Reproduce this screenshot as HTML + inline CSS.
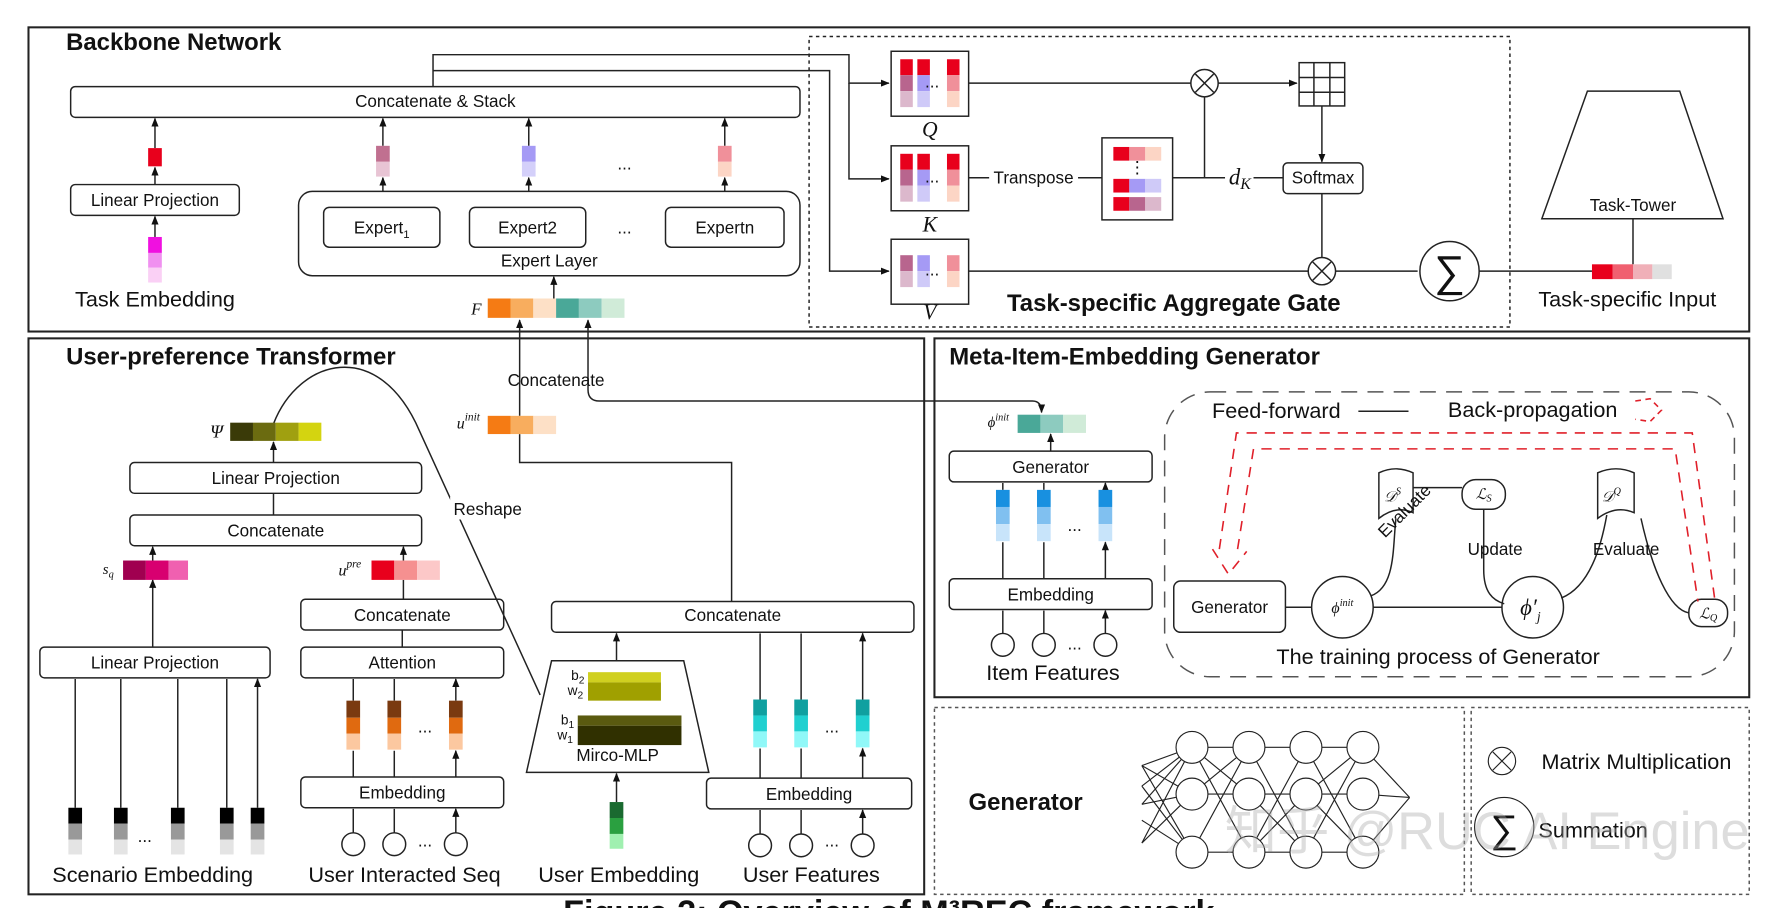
<!DOCTYPE html>
<html><head><meta charset="utf-8"><style>
html,body{margin:0;padding:0;background:#fff;}
svg{display:block;}
text{font-family:"Liberation Sans",Arial,sans-serif;fill:#111;}
.t{font-size:15px;text-anchor:middle;}
.b{font-size:21px;font-weight:bold;}
.m{font-size:19px;text-anchor:middle;}
.s{font-family:"Liberation Serif",serif;font-style:italic;}
</style></head><body>
<svg width="1780" height="908" viewBox="0 0 1562 797" preserveAspectRatio="none" xmlns="http://www.w3.org/2000/svg">
<defs>
<marker id="a" viewBox="0 0 10 10" refX="9" refY="5" markerWidth="6" markerHeight="6" orient="auto"><path d="M0,1 L10,5 L0,9 z" fill="#111"/></marker>
</defs>
<g fill="none" stroke="#222" stroke-width="1.3">
<rect x="25" y="24" width="1510" height="267" stroke-width="1.8"/>
<rect x="710" y="32" width="615" height="255" stroke-dasharray="3,3"/>
<rect x="25" y="297" width="786" height="488" stroke-width="1.8"/>
<rect x="820" y="297" width="715" height="315" stroke-width="1.8"/>
<rect x="820" y="621" width="465" height="164" stroke-dasharray="3,3" stroke="#555"/>
<rect x="1291" y="621" width="244" height="164" stroke-dasharray="3,3" stroke="#555"/>
<rect x="62" y="76" width="640" height="27" rx="4"/>
<rect x="62" y="162" width="148" height="27" rx="4"/>
<rect x="262" y="168" width="440" height="74" rx="12"/>
<rect x="284" y="182" width="102" height="35" rx="5"/>
<rect x="412" y="182" width="102" height="35" rx="5"/>
<rect x="584" y="182" width="104" height="35" rx="5"/>
<path d="M380,76 V48 H745 V73 H780" marker-end="url(#a)"/>
<path d="M745,73 V157 H780" marker-end="url(#a)"/>
<path d="M380,62 H728 V238 H780" marker-end="url(#a)"/>
<path d="M136,208 V190" marker-end="url(#a)"/>
<path d="M136,162 V147" marker-end="url(#a)"/>
<path d="M136,130 V104" marker-end="url(#a)"/>
<path d="M336,168 V156" marker-end="url(#a)"/><path d="M336,128 V104" marker-end="url(#a)"/>
<path d="M464,168 V156" marker-end="url(#a)"/><path d="M464,128 V104" marker-end="url(#a)"/>
<path d="M636,168 V156" marker-end="url(#a)"/><path d="M636,128 V104" marker-end="url(#a)"/>
<path d="M486,262 V243" marker-end="url(#a)"/>
<rect x="782" y="45" width="68" height="57"/>
<rect x="782" y="128" width="68" height="57"/>
<rect x="782" y="210" width="68" height="57"/>
<rect x="967" y="121" width="62" height="72"/>
<path d="M850,156 H868 M946,156 H967"/>
<path d="M1029,156 H1075 M1057,156 V85 M1100,156 H1126"/>
<path d="M850,73 H1045 M1069,73 H1138" marker-end="url(#a)"/>
<rect x="1140" y="55" width="40" height="38"/>
<path d="M1153,55 V93 M1167,55 V93 M1140,68 H1180 M1140,81 H1180"/>
<path d="M1160,93 V142" marker-end="url(#a)"/>
<rect x="1126" y="143" width="70" height="27" rx="4"/>
<path d="M1160,170 V226"/>
<path d="M850,238 H1148 M1172,238 H1244"/>
<circle cx="1057" cy="73" r="12"/><path d="M1049,65 L1065,81 M1065,65 L1049,81"/>
<circle cx="1160" cy="238" r="12"/><path d="M1152,230 L1168,246 M1168,230 L1152,246"/>
<circle cx="1272" cy="238" r="26"/>
<path d="M1298,238 H1397"/>
<path d="M1393,80 H1474 L1512,192 H1353 Z"/>
<path d="M1433,192 V232"/>
<path d="M456,365 V281" marker-end="url(#a)"/>
<path d="M516,290 V281" marker-end="url(#a)"/>
<path d="M516,290 V342 Q516,352 526,352 H906 Q914,352 914,362" marker-end="url(#a)"/>
<path d="M456,381 V406 H642 V528"/>
<path d="M240,372 C262,315 332,295 368,378 L474,610"/>
<rect x="114" y="406" width="256" height="27" rx="4"/>
<rect x="114" y="452" width="256" height="27" rx="4"/>
<path d="M240,406 V388" marker-end="url(#a)"/>
<path d="M240,433 V452"/>
<path d="M134,492 V480" marker-end="url(#a)"/>
<path d="M354,492 V480" marker-end="url(#a)"/>
<rect x="35" y="568" width="202" height="27" rx="4"/>
<path d="M134,568 V509" marker-end="url(#a)"/>
<rect x="264" y="526" width="178" height="27" rx="4"/>
<rect x="264" y="568" width="178" height="27" rx="4"/>
<path d="M354,526 V509 M353,553 V568"/>
<path d="M66,709 V596 M106,709 V596 M156,709 V596 M199,709 V596 M226,709 V596" marker-end="url(#a)"/>
<path d="M310,615 V596 M346,615 V596 M400,615 V596" marker-end="url(#a)"/>
<rect x="264" y="682" width="178" height="27" rx="4"/>
<path d="M310,682 V659 M346,682 V659 M400,682 V659" marker-end="url(#a)"/>
<path d="M310,731 V710 M346,731 V710 M400,731 V710" marker-end="url(#a)"/>
<circle cx="310" cy="741" r="10"/><circle cx="346" cy="741" r="10"/><circle cx="400" cy="741" r="10"/>
<rect x="484" y="528" width="318" height="27" rx="4"/>
<path d="M484,580 H600 L622,678 H462 Z"/>
<path d="M541,580 V556" marker-end="url(#a)"/>
<path d="M541,704 V679" marker-end="url(#a)"/>
<path d="M667,614 V556 M703,614 V556 M757,614 V556" marker-end="url(#a)"/>
<rect x="620" y="683" width="180" height="27" rx="4"/>
<path d="M667,683 V657 M703,683 V657 M757,683 V657" marker-end="url(#a)"/>
<path d="M667,732 V711 M703,732 V711 M757,732 V711" marker-end="url(#a)"/>
<circle cx="667" cy="742" r="10"/><circle cx="703" cy="742" r="10"/><circle cx="757" cy="742" r="10"/>
<rect x="833" y="396" width="178" height="27" rx="4"/>
<path d="M922,396 V381" marker-end="url(#a)"/>
<path d="M880,430 V424 M916,430 V424 M970,430 V424" marker-end="url(#a)"/>
<path d="M880,508 V476 M916,508 V476 M970,508 V476" marker-end="url(#a)"/>
<rect x="833" y="508" width="178" height="27" rx="4"/>
<path d="M880,556 V536 M916,556 V536 M970,556 V536" marker-end="url(#a)"/>
<circle cx="880" cy="566" r="10"/><circle cx="916" cy="566" r="10"/><circle cx="970" cy="566" r="10"/>
<rect x="1022" y="344" width="500" height="250" rx="40" stroke="#555" stroke-dasharray="14,9"/>
<path d="M1192,361 H1236"/>
<rect x="1030" y="510" width="98" height="45" rx="6"/>
<path d="M1128,533 H1151 M1205,533 H1318"/>
<circle cx="1178" cy="533" r="27"/>
<circle cx="1345" cy="533" r="27"/>
<path d="M1203,523 C1225,515 1222,480 1225,455"/>
<path d="M1240,428 H1283"/>
<rect x="1283" y="421" width="38" height="26" rx="12"/>
<path d="M1302,447 V500 C1302,520 1310,527 1320,530"/>
<path d="M1370,525 C1395,515 1405,480 1410,452"/>
<path d="M1440,455 C1450,500 1465,535 1482,538"/>
<rect x="1482" y="526" width="34" height="24" rx="11"/>
<path d="M1210,415 Q1225,408 1240,415 V450 Q1225,443 1210,455 Z"/>
<path d="M1402,415 Q1418,408 1434,415 V450 Q1418,443 1402,455 Z"/>
</g>
<g fill="none" stroke="#e0202a" stroke-width="1.4" stroke-dasharray="9,7">
<path d="M1070,482 L1085,380 H1485 L1505,528"/>
<path d="M1086,482 L1100,394 H1470 L1490,528"/>
<path d="M1064,482 L1078,504 L1094,484"/>
<path d="M1435,352 L1448,350 L1458,360 L1448,370 L1435,368" stroke-dasharray="5,4"/>
</g>
<g stroke="none">
<rect x="130" y="130" width="12" height="16" fill="#e8001c"/>
<rect x="130" y="208" width="12" height="14" fill="#f010e0"/><rect x="130" y="222" width="12" height="13" fill="#f090f0"/><rect x="130" y="235" width="12" height="13" fill="#fad0f5"/>
<rect x="330" y="128" width="12" height="14" fill="#c07090"/><rect x="330" y="142" width="12" height="13" fill="#e8c4d4"/>
<rect x="458" y="128" width="12" height="14" fill="#a59af5"/><rect x="458" y="142" width="12" height="13" fill="#d4d0fa"/>
<rect x="630" y="128" width="12" height="14" fill="#f0909a"/><rect x="630" y="142" width="12" height="13" fill="#fcd5c5"/>
<rect x="428" y="262" width="20" height="17" fill="#f57b14"/><rect x="448" y="262" width="20" height="17" fill="#f8ad5e"/><rect x="468" y="262" width="20" height="17" fill="#fde0c6"/><rect x="488" y="262" width="20" height="17" fill="#4aa898"/><rect x="508" y="262" width="20" height="17" fill="#8dcbbf"/><rect x="528" y="262" width="20" height="17" fill="#d0ebd8"/>
<rect x="790" y="52" width="11" height="14" fill="#e8001c"/><rect x="790" y="66" width="11" height="14" fill="#b8658e"/><rect x="790" y="80" width="11" height="14" fill="#dcb8cc"/>
<rect x="805" y="52" width="11" height="14" fill="#e8001c"/><rect x="805" y="66" width="11" height="14" fill="#a59af5"/><rect x="805" y="80" width="11" height="14" fill="#cfcaf8"/>
<rect x="831" y="52" width="11" height="14" fill="#e8001c"/><rect x="831" y="66" width="11" height="14" fill="#f0909a"/><rect x="831" y="80" width="11" height="14" fill="#fcd5c5"/>
<rect x="790" y="135" width="11" height="14" fill="#e8001c"/><rect x="790" y="149" width="11" height="14" fill="#b8658e"/><rect x="790" y="163" width="11" height="14" fill="#dcb8cc"/>
<rect x="805" y="135" width="11" height="14" fill="#e8001c"/><rect x="805" y="149" width="11" height="14" fill="#a59af5"/><rect x="805" y="163" width="11" height="14" fill="#cfcaf8"/>
<rect x="831" y="135" width="11" height="14" fill="#e8001c"/><rect x="831" y="149" width="11" height="14" fill="#f0909a"/><rect x="831" y="163" width="11" height="14" fill="#fcd5c5"/>
<rect x="790" y="224" width="11" height="14" fill="#b8658e"/><rect x="790" y="238" width="11" height="14" fill="#dcb8cc"/>
<rect x="805" y="224" width="11" height="14" fill="#a59af5"/><rect x="805" y="238" width="11" height="14" fill="#cfcaf8"/>
<rect x="831" y="224" width="11" height="14" fill="#f0909a"/><rect x="831" y="238" width="11" height="14" fill="#fcd5c5"/>
<rect x="977" y="129" width="14" height="12" fill="#e8001c"/><rect x="991" y="129" width="14" height="12" fill="#f0909a"/><rect x="1005" y="129" width="14" height="12" fill="#fcd5c5"/>
<rect x="977" y="157" width="14" height="12" fill="#e8001c"/><rect x="991" y="157" width="14" height="12" fill="#a59af5"/><rect x="1005" y="157" width="14" height="12" fill="#cfcaf8"/>
<rect x="977" y="173" width="14" height="12" fill="#e8001c"/><rect x="991" y="173" width="14" height="12" fill="#b8658e"/><rect x="1005" y="173" width="14" height="12" fill="#dcb8cc"/>
<rect x="1397" y="232" width="18" height="13" fill="#e8001c"/><rect x="1415" y="232" width="18" height="13" fill="#f06070"/><rect x="1433" y="232" width="17" height="13" fill="#f0b0b8"/><rect x="1450" y="232" width="17" height="13" fill="#e0e0e0"/>
<rect x="428" y="365" width="20" height="16" fill="#f57b14"/><rect x="448" y="365" width="20" height="16" fill="#f8ad5e"/><rect x="468" y="365" width="20" height="16" fill="#fde0c6"/>
<rect x="202" y="371" width="20" height="16" fill="#3a3a08"/><rect x="222" y="371" width="20" height="16" fill="#6b6b10"/><rect x="242" y="371" width="20" height="16" fill="#a0a010"/><rect x="262" y="371" width="20" height="16" fill="#d4d410"/>
<rect x="108" y="492" width="20" height="17" fill="#a00050"/><rect x="128" y="492" width="20" height="17" fill="#d80070"/><rect x="148" y="492" width="17" height="17" fill="#f060b0"/>
<rect x="326" y="492" width="20" height="17" fill="#e8001c"/><rect x="346" y="492" width="20" height="17" fill="#f59090"/><rect x="366" y="492" width="20" height="17" fill="#fcc8c8"/>
<g>
<rect x="60" y="709" width="12" height="14" fill="#000"/><rect x="60" y="723" width="12" height="14" fill="#999"/><rect x="60" y="737" width="12" height="13" fill="#e4e4e4"/>
<rect x="100" y="709" width="12" height="14" fill="#000"/><rect x="100" y="723" width="12" height="14" fill="#999"/><rect x="100" y="737" width="12" height="13" fill="#e4e4e4"/>
<rect x="150" y="709" width="12" height="14" fill="#000"/><rect x="150" y="723" width="12" height="14" fill="#999"/><rect x="150" y="737" width="12" height="13" fill="#e4e4e4"/>
<rect x="193" y="709" width="12" height="14" fill="#000"/><rect x="193" y="723" width="12" height="14" fill="#999"/><rect x="193" y="737" width="12" height="13" fill="#e4e4e4"/>
<rect x="220" y="709" width="12" height="14" fill="#000"/><rect x="220" y="723" width="12" height="14" fill="#999"/><rect x="220" y="737" width="12" height="13" fill="#e4e4e4"/>
</g>
<g>
<rect x="304" y="615" width="12" height="15" fill="#7a3a10"/><rect x="304" y="630" width="12" height="14" fill="#e06a10"/><rect x="304" y="644" width="12" height="14" fill="#fcc8a0"/>
<rect x="340" y="615" width="12" height="15" fill="#7a3a10"/><rect x="340" y="630" width="12" height="14" fill="#e06a10"/><rect x="340" y="644" width="12" height="14" fill="#fcc8a0"/>
<rect x="394" y="615" width="12" height="15" fill="#7a3a10"/><rect x="394" y="630" width="12" height="14" fill="#e06a10"/><rect x="394" y="644" width="12" height="14" fill="#fcc8a0"/>
</g>
<rect x="516" y="590" width="64" height="9" fill="#d0d020"/><rect x="516" y="599" width="64" height="16" fill="#a0a000"/>
<rect x="507" y="628" width="91" height="9" fill="#5a5a10"/><rect x="507" y="637" width="91" height="17" fill="#303000"/>
<rect x="535" y="704" width="12" height="14" fill="#1a6a30"/><rect x="535" y="718" width="12" height="14" fill="#2aa040"/><rect x="535" y="732" width="12" height="13" fill="#a0f0b0"/>
<g>
<rect x="661" y="614" width="12" height="14" fill="#10a0a0"/><rect x="661" y="628" width="12" height="14" fill="#20d0d0"/><rect x="661" y="642" width="12" height="14" fill="#90f8f8"/>
<rect x="697" y="614" width="12" height="14" fill="#10a0a0"/><rect x="697" y="628" width="12" height="14" fill="#20d0d0"/><rect x="697" y="642" width="12" height="14" fill="#90f8f8"/>
<rect x="751" y="614" width="12" height="14" fill="#10a0a0"/><rect x="751" y="628" width="12" height="14" fill="#20d0d0"/><rect x="751" y="642" width="12" height="14" fill="#90f8f8"/>
</g>
<rect x="893" y="364" width="20" height="16" fill="#4aa898"/><rect x="913" y="364" width="20" height="16" fill="#8dcbbf"/><rect x="933" y="364" width="20" height="16" fill="#d0ebd8"/>
<g>
<rect x="874" y="430" width="12" height="15" fill="#1890e0"/><rect x="874" y="445" width="12" height="15" fill="#80c0f0"/><rect x="874" y="460" width="12" height="15" fill="#c8e4fa"/>
<rect x="910" y="430" width="12" height="15" fill="#1890e0"/><rect x="910" y="445" width="12" height="15" fill="#80c0f0"/><rect x="910" y="460" width="12" height="15" fill="#c8e4fa"/>
<rect x="964" y="430" width="12" height="15" fill="#1890e0"/><rect x="964" y="445" width="12" height="15" fill="#80c0f0"/><rect x="964" y="460" width="12" height="15" fill="#c8e4fa"/>
</g>
</g>
<g fill="none" stroke="#222" stroke-width="1">
<path d="M1002,672 L1046,656 M1002,672 L1046,697 M1002,672 L1046,748 M1002,690 L1046,656 M1002,690 L1046,748 M1002,706 L1046,656 M1002,706 L1046,697 M1002,720 L1046,748 M1002,740 L1046,697 M1002,740 L1046,656"/>
<path d="M1046,656 L1096,656 L1146,656 L1196,656 M1046,697 H1196 M1046,748 H1196"/>
<path d="M1046,656 L1096,748 M1046,748 L1096,656 M1046,697 L1096,656 M1046,656 L1096,697 M1096,656 L1146,748 M1096,748 L1146,656 M1096,697 L1146,748 M1096,748 L1146,697 M1146,656 L1196,748 M1146,748 L1196,656 M1146,697 L1196,656 M1146,697 L1196,748"/>
<path d="M1196,656 L1237,700 M1196,697 L1237,700 M1196,748 L1237,700"/>
<circle cx="1046" cy="656" r="14" fill="#fff"/><circle cx="1046" cy="697" r="14" fill="#fff"/><circle cx="1046" cy="748" r="14" fill="#fff"/>
<circle cx="1096" cy="656" r="14" fill="#fff"/><circle cx="1096" cy="697" r="14" fill="#fff"/><circle cx="1096" cy="748" r="14" fill="#fff"/>
<circle cx="1146" cy="656" r="14" fill="#fff"/><circle cx="1146" cy="697" r="14" fill="#fff"/><circle cx="1146" cy="748" r="14" fill="#fff"/>
<circle cx="1196" cy="656" r="14" fill="#fff"/><circle cx="1196" cy="697" r="14" fill="#fff"/><circle cx="1196" cy="748" r="14" fill="#fff"/>
<circle cx="1318" cy="668" r="12"/><path d="M1310,660 L1326,676 M1326,660 L1310,676"/>
<circle cx="1320" cy="726" r="26"/>
</g>
<text x="58" y="44" class="b">Backbone Network</text>
<text x="382" y="94" class="t">Concatenate &amp; Stack</text>
<text x="136" y="181" class="t">Linear Projection</text>
<text x="335" y="205" class="t">Expert<tspan font-size="10" dy="4">1</tspan></text>
<text x="463" y="205" class="t">Expert2</text>
<text x="636" y="205" class="t">Expertn</text>
<text x="548" y="205" class="t">...</text>
<text x="548" y="149" class="t">...</text>
<text x="482" y="234" class="t">Expert Layer</text>
<text x="136" y="269" class="m">Task Embedding</text>
<text x="418" y="276" class="s" font-size="15" text-anchor="middle">F</text>
<text x="816" y="120" class="s" font-size="19" text-anchor="middle">Q</text>
<text x="816" y="203" class="s" font-size="19" text-anchor="middle">K</text>
<text x="816" y="280" class="s" font-size="19" text-anchor="middle">V</text>
<text x="818" y="77" class="t" font-size="11">...</text><text x="818" y="160" class="t" font-size="11">...</text><text x="818" y="242" class="t" font-size="11">...</text>
<text x="907" y="161" class="t">Transpose</text>
<text x="998" y="152" class="t" font-size="11">⋮</text>
<text x="1088" y="162" class="s" font-size="20" text-anchor="middle">d<tspan font-size="14" dy="4">K</tspan></text>
<text x="1161" y="161" class="t">Softmax</text>
<text x="1272" y="251" font-size="38" text-anchor="middle" font-family="DejaVu Sans,sans-serif">∑</text>
<text x="1433" y="185" class="t">Task-Tower</text>
<text x="1428" y="269" class="m">Task-specific Input</text>
<text x="1030" y="273" class="b" text-anchor="middle">Task-specific Aggregate Gate</text>
<text x="58" y="320" class="b">User-preference Transformer</text>
<text x="488" y="339" class="t">Concatenate</text>
<text x="411" y="376" class="s" font-size="14" text-anchor="middle">u<tspan font-size="10" dy="-7">init</tspan></text>
<text x="190" y="384" class="s" font-size="16" text-anchor="middle">Ψ</text>
<rect x="395" y="436" width="66" height="20" fill="#fff"/>
<text x="428" y="452" class="t">Reshape</text>
<text x="242" y="425" class="t">Linear Projection</text>
<text x="242" y="471" class="t">Concatenate</text>
<text x="95" y="504" class="s" font-size="13" text-anchor="middle">s<tspan font-size="9" dy="3">q</tspan></text>
<text x="307" y="505" class="s" font-size="14" text-anchor="middle">u<tspan font-size="10" dy="-7">pre</tspan></text>
<text x="136" y="587" class="t">Linear Projection</text>
<text x="353" y="545" class="t">Concatenate</text>
<text x="353" y="587" class="t">Attention</text>
<text x="353" y="701" class="t">Embedding</text>
<text x="643" y="545" class="t">Concatenate</text>
<text x="710" y="702" class="t">Embedding</text>
<text x="127" y="739" class="t" font-size="11">...</text>
<text x="373" y="643" class="t" font-size="11">...</text>
<text x="373" y="743" class="t" font-size="11">...</text>
<text x="730" y="643" class="t" font-size="11">...</text>
<text x="730" y="743" class="t" font-size="11">...</text>
<text x="943" y="466" class="t" font-size="11">...</text>
<text x="943" y="570" class="t" font-size="11">...</text>
<text x="507" y="597" font-size="12" text-anchor="middle">b<tspan font-size="9" dy="3">2</tspan></text>
<text x="505" y="610" font-size="12" text-anchor="middle">w<tspan font-size="9" dy="3">2</tspan></text>
<text x="498" y="636" font-size="12" text-anchor="middle">b<tspan font-size="9" dy="3">1</tspan></text>
<text x="496" y="649" font-size="12" text-anchor="middle">w<tspan font-size="9" dy="3">1</tspan></text>
<text x="542" y="668" class="t" font-size="14">Mirco-MLP</text>
<text x="134" y="774" class="m">Scenario Embedding</text>
<text x="355" y="774" class="m">User Interacted Seq</text>
<text x="543" y="774" class="m">User Embedding</text>
<text x="712" y="774" class="m">User Features</text>
<text x="833" y="320" class="b">Meta-Item-Embedding Generator</text>
<text x="876" y="375" class="s" font-size="13" text-anchor="middle">ϕ<tspan font-size="9" dy="-6">init</tspan></text>
<text x="922" y="415" class="t">Generator</text>
<text x="922" y="527" class="t">Embedding</text>
<text x="924" y="597" class="m">Item Features</text>
<text x="1120" y="367" class="m" font-size="18">Feed-forward</text>
<text x="1345" y="366" class="m" font-size="18">Back-propagation</text>
<text x="1079" y="538" class="t">Generator</text>
<text x="1178" y="538" class="s" font-size="14" text-anchor="middle">ϕ<tspan font-size="9" dy="-6">init</tspan></text>
<text x="1343" y="540" class="s" font-size="20" text-anchor="middle">ϕ′<tspan font-size="12" dy="5">j</tspan></text>
<text x="1222" y="440" class="s" font-size="13" text-anchor="middle">𝒟<tspan font-size="9" dy="-6">S</tspan></text>
<text x="1414" y="440" class="s" font-size="13" text-anchor="middle">𝒟<tspan font-size="9" dy="-6">Q</tspan></text>
<text x="1302" y="438" class="s" font-size="13" text-anchor="middle">ℒ<tspan font-size="9" dy="2">S</tspan></text>
<text x="1499" y="543" class="s" font-size="13" text-anchor="middle">ℒ<tspan font-size="9" dy="2">Q</tspan></text>
<text x="1236" y="452" class="t" transform="rotate(-45 1236 452)">Evaluate</text>
<text x="1312" y="487" class="t">Update</text>
<text x="1427" y="487" class="t">Evaluate</text>
<text x="1262" y="583" class="m" font-size="18">The training process of Generator</text>
<text x="900" y="711" class="b" text-anchor="middle">Generator</text>
<text x="1436" y="675" class="m" font-size="18">Matrix Multiplication</text>
<text x="1320" y="739" font-size="34" text-anchor="middle" font-family="DejaVu Sans,sans-serif">∑</text>
<text x="1398" y="735" class="m" font-size="17">Summation</text>
<text x="1305" y="745" font-size="46" text-anchor="middle" style="fill:rgba(170,170,170,0.4)" font-family="Liberation Sans,Noto Sans CJK SC,sans-serif">知乎 @RUC AI Engine</text>
<text x="780" y="811" font-size="30" font-weight="bold" text-anchor="middle" font-family="Liberation Serif,serif">Figure 2: Overview of M³REC framework</text>
</svg>
</body></html>
